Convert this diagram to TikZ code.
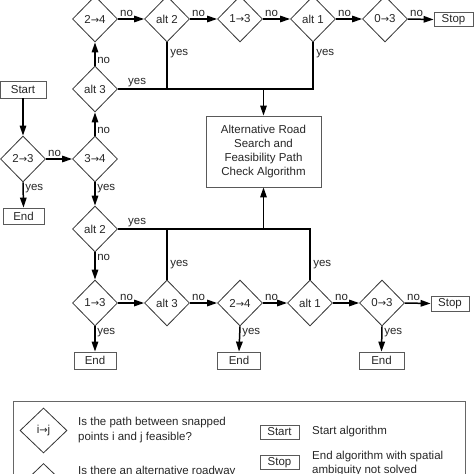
\documentclass[tikz,border=0pt]{standalone}
\usepackage{fontspec}
\setmainfont{Liberation Sans}
\newfontfamily\arrfont{DejaVu Sans}
\usetikzlibrary{shapes.geometric,arrows.meta}
\newcommand{\myarrow}{{\arrfont\fontsize{10}{10}\selectfont →}}
\begin{document}
\begin{tikzpicture}[x=1pt,y=-1pt,
  every node/.style={text=black!85, font=\fontsize{11.5}{14}\selectfont},
  dia/.style={draw=black!80, line width=0.8pt, shape=diamond, minimum width=45pt, minimum height=46pt, inner sep=0pt},
  bx/.style={draw=black!65, line width=0.8pt, rectangle, minimum height=16pt, inner sep=0pt},
  arr/.style={draw=black, line width=1.5pt, -{Triangle[length=10pt,width=6.5pt]}},
  ln/.style={draw=black, line width=1.5pt, line join=miter},
  lab/.style={inner sep=1.5pt}
]
\useasboundingbox (0,0) rectangle (474,474);
\clip (0,0) rectangle (474,474);

% top row
\node[dia] (d24t) at (95,19) {2\myarrow4};
\node[dia] (alt2t) at (167,19) {alt 2};
\node[dia] (d13t) at (240,19) {1\myarrow3};
\node[dia] (alt1t) at (313,19) {alt 1};
\node[dia] (d03t) at (385,19) {0\myarrow3};
\node[bx, minimum width=39pt, minimum height=14pt] (stopt) at (453.5,19.5) {Stop};

% left column
\node[bx, minimum width=46pt, minimum height=17pt] (start) at (23,89.5) {Start};
\node[dia] (d23) at (23,159) {2\myarrow3};
\node[bx, minimum width=41pt] (end0) at (23.5,216) {End};
\node[dia] (alt3a) at (95,89) {alt 3};
\node[dia] (d34) at (95,159) {3\myarrow4};
\node[dia] (alt2b) at (95,229) {alt 2};

% central box
\node[bx, minimum width=115pt, minimum height=71pt, align=center] (central) at (263.5,151.5)
  {Alternative Road\\Search and\\Feasibility Path\\Check Algorithm};

% bottom row
\node[dia] (d13b) at (95,303) {1\myarrow3};
\node[dia] (alt3b) at (167,303) {alt 3};
\node[dia] (d24b) at (240,303) {2\myarrow4};
\node[dia] (alt1b) at (310,303) {alt 1};
\node[dia] (d03b) at (382,303) {0\myarrow3};
\node[bx, minimum width=38pt, minimum height=15pt] (stopb) at (450,303.5) {Stop};
\node[bx, minimum width=42pt, minimum height=17pt] (end1) at (95,360.5) {End};
\node[bx, minimum width=43pt, minimum height=17pt] (end2) at (239,360.5) {End};
\node[bx, minimum width=45pt, minimum height=17pt] (end3) at (381.5,360.5) {End};

% top row arrows
\draw[arr] (d24t.east) -- node[lab, pos=0, above right]{no} (alt2t.west);
\draw[arr] (alt2t.east) -- node[lab, pos=0, above right]{no} (d13t.west);
\draw[arr] (d13t.east) -- node[lab, pos=0, above right]{no} (alt1t.west);
\draw[arr] (alt1t.east) -- node[lab, pos=0, above right]{no} (d03t.west);
\draw[arr] (d03t.east) -- node[lab, pos=0, above right]{no} (stopt.west);

% left column arrows
\draw[arr] (start.south) -- (d23.north);
\draw[arr] (d23.south) -- node[lab, pos=0, below right]{yes} (end0.north);
\draw[arr] (d23.east) -- node[lab, pos=0, above right]{no} (d34.west);
\draw[arr] (d34.north) -- node[lab, pos=0, above right]{no} (alt3a.south);
\draw[arr] (alt3a.north) -- node[lab, pos=0, above right]{no} (d24t.south);
\draw[arr] (d34.south) -- node[lab, pos=0, below right]{yes} (alt2b.north);
\draw[arr] (alt2b.south) -- node[lab, pos=0, below right]{no} (d13b.north);

% top junctions
\coordinate (jA) at (alt1t.south |- alt3a.east);
\coordinate (jB) at (alt2t.south |- alt3a.east);
\coordinate (jC) at (central.north |- alt3a.east);
\draw[ln] (alt3a.east) -- node[lab, pos=0, above right, xshift=8pt]{yes} (jA)
  -- node[lab, pos=0.75, right, xshift=1pt]{yes} (alt1t.south);
\draw[ln] (jB) -- node[lab, pos=0.75, right, xshift=1pt]{yes} (alt2t.south);
\draw[arr] (jC) -- (central.north);

% bottom junctions
\coordinate (jD) at (alt1b.north |- alt2b.east);
\coordinate (jE) at (alt3b.north |- alt2b.east);
\coordinate (jF) at (central.south |- alt2b.east);
\draw[ln] (alt2b.east) -- node[lab, pos=0, above right, xshift=8pt]{yes} (jD)
  -- node[lab, pos=0.7, right, xshift=1pt]{yes} (alt1b.north);
\draw[ln] (jE) -- node[lab, pos=0.7, right, xshift=1pt]{yes} (alt3b.north);
\draw[arr] (jF) -- (central.south);

% bottom row arrows
\draw[arr] (d13b.east) -- node[lab, pos=0, above right]{no} (alt3b.west);
\draw[arr] (alt3b.east) -- node[lab, pos=0, above right]{no} (d24b.west);
\draw[arr] (d24b.east) -- node[lab, pos=0, above right]{no} (alt1b.west);
\draw[arr] (alt1b.east) -- node[lab, pos=0, above right]{no} (d03b.west);
\draw[arr] (d03b.east) -- node[lab, pos=0, above right]{no} (stopb.west);
\draw[arr] (d13b.south) -- node[lab, pos=0, below right]{yes} (end1.north);
\draw[arr] (d24b.south) -- node[lab, pos=0, below right]{yes} (end2.north);
\draw[arr] (d03b.south) -- node[lab, pos=0, below right]{yes} (end3.north);

% legend
\node[draw=black!60, line width=0.8pt, minimum width=452pt, minimum height=110pt, anchor=north west, inner sep=0pt] (legend) at (13,401) {};
\node[dia, minimum width=47pt, minimum height=45pt] (legdia) at (43.5,430.5) {i\myarrow j};
\node[anchor=west, align=left, font=\fontsize{11.5}{15}\selectfont, inner sep=0pt] (legtxt1) at (78,430.5)
  {Is the path between snapped\\points i and j feasible?};
\node[bx, minimum width=39pt, minimum height=14pt] (legstart) at (279.5,432) {Start};
\node[anchor=west, inner sep=0pt] (legtxt2) at (312,431.5) {Start algorithm};
\node[bx, minimum width=39pt, minimum height=14pt] (legstop) at (279.5,462.5) {Stop};
\node[anchor=north west, align=left, font=\fontsize{11.5}{14}\selectfont, inner sep=0pt] (legtxt3) at (312,451)
  {End algorithm with spatial\\ambiguity not solved};
\node[dia, minimum width=47pt, minimum height=45pt] (legdia2) at (43.5,486) {};
\node[anchor=west, inner sep=0pt] (legtxt4) at (78,472) {Is there an alternative roadway};
\end{tikzpicture}
\end{document}
